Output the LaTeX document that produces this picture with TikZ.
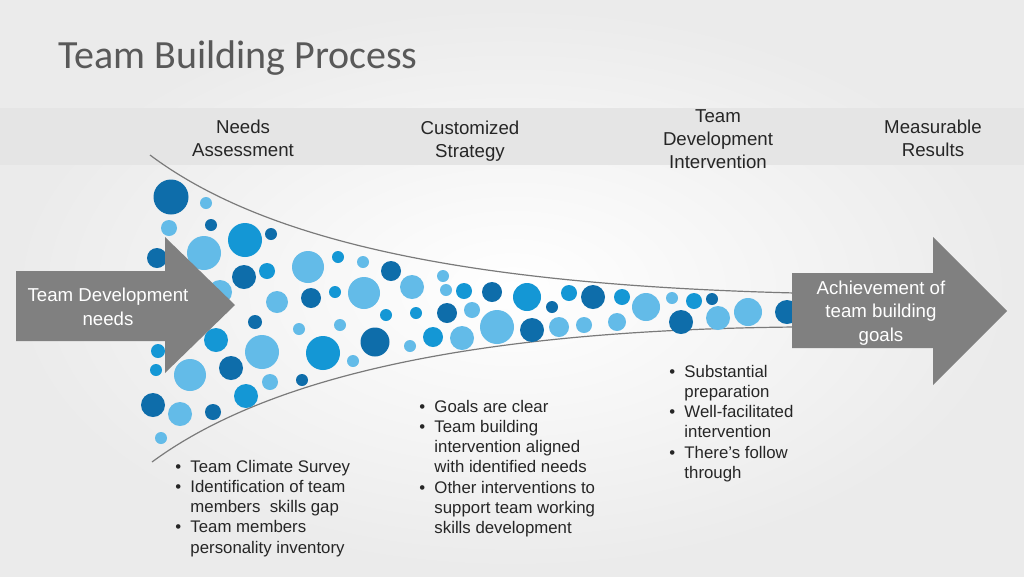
\documentclass[tikz,border=0pt]{standalone}
\usepackage{fontspec}
\setmainfont{Liberation Sans}
\newfontfamily\titlefont{Carlito}
\usepackage{xcolor}
\definecolor{bubdark}{HTML}{0E6DAA}
\definecolor{bubmid}{HTML}{1497D5}
\definecolor{bubpale}{HTML}{63BBE8}
\definecolor{arrowgray}{HTML}{808080}
\definecolor{titlegray}{HTML}{595959}
\definecolor{linegray}{HTML}{7A7A7A}
\definecolor{bandgray}{HTML}{E5E5E5}

\begin{document}
\begin{tikzpicture}[x=0.75pt,y=-0.75pt]
\tikzset{header/.style={align=center,inner sep=0pt,text=black!85,font=\fontsize{14}{17.3}\selectfont}}
\tikzset{bullets/.style={anchor=base west,inner sep=0pt,text=black!85,font=\fontsize{12.6}{15.2}\selectfont}}
\tikzset{arrowtext/.style={align=center,inner sep=0pt,text=white,font=\fontsize{14}{17.6}\selectfont}}
\tikzset{bigarrow/.style={fill=arrowgray}}
\tikzset{funnel/.style={draw=linegray,line width=0.9pt}}

\useasboundingbox (0,0) rectangle (1024,576);
\shade[inner color=white,outer color=gray!16] (0,0) rectangle (1024,576);
\fill[bandgray] (0,108) rectangle (1024,165);

\node[anchor=base west,inner sep=0pt,text=titlegray,font=\titlefont\fontsize{30}{36}\selectfont] (title) at (58,68) {Team Building Process};

\node[header] (needs) at (243,138) {Needs\\Assessment};
\node[header] (strategy) at (470,141) {Customized\\Strategy};
\node[header] (intervention) at (718,139) {Team\\Development\\Intervention};
\node[header] (results) at (933,138) {Measurable\\Results};

\draw[funnel] (150,155) .. controls (270,245) and (480,285) .. (795,293);
\draw[funnel] (152,462) .. controls (270,375) and (480,330) .. (795,327);

\foreach \cx/\cy/\r in {171/197/17.5, 211/225/6, 271/234/6, 157/258/10, 244/277/12,
  255/322/7, 231/368/12, 153/405/12, 213/412/8, 302/380/6, 391/271/10, 311/298/10,
  375/342/14.5, 447/313/10, 492/292/10, 552/307/6, 593/297/12, 532/330/12, 712/299/6,
  681/322/12, 787/312/12}
  \fill[bubdark] (\cx,\cy) circle[radius=\r];
\foreach \cx/\cy/\r in {245/240/17, 267/271/8, 216/340/12, 158/351/7, 156/370/6,
  246/396/12, 338/257/6, 335/292/6, 386/315/6, 416/313/6, 433/337/10, 323/353/17,
  464/291/8, 527/297/14, 569/293/8, 622/297/8, 694/301/8}
  \fill[bubmid] (\cx,\cy) circle[radius=\r];
\foreach \cx/\cy/\r in {206/203/6, 169/228/8, 204/253/17, 220/292/12, 277/302/11,
  262/352/17, 190/375/16, 270/382/8, 180/414/12, 161/438/6, 308/267/16, 363/262/6,
  364/293/16, 412/287/12, 443/276/6, 446/290/6, 299/329/6, 340/325/6, 353/361/6,
  410/346/6, 462/338/12, 472/310/8, 497/327/17, 559/327/10, 584/325/8, 617/322/9,
  646/307/14, 672/298/6, 718/318/12, 748/312/14}
  \fill[bubpale] (\cx,\cy) circle[radius=\r];

\fill[bigarrow] (16,271) -- (165,271) -- (165,237) -- (235,305) -- (165,373) -- (165,341) -- (16,341) -- cycle;
\fill[bigarrow] (792,273) -- (933,273) -- (933,237) -- (1007,311) -- (933,385) -- (933,348) -- (792,348) -- cycle;

\node[arrowtext] (devneeds) at (108,307) {Team Development\\needs};
\node[arrowtext] (goals) at (881,313) {Achievement of\\team building\\goals};

\node[bullets] (needslist) at (175,472) {\begin{tabular}[t]{@{}l@{\hspace{7pt}}l@{}}
  • & Team Climate Survey\\
  • & Identification of team\\
    & members\ \ skills gap\\
  • & Team members\\
    & personality inventory
\end{tabular}};
\node[bullets] (strategylist) at (419,412) {\begin{tabular}[t]{@{}l@{\hspace{7pt}}l@{}}
  • & Goals are clear\\
  • & Team building\\
    & intervention aligned\\
    & with identified needs\\
  • & Other interventions to\\
    & support team working\\
    & skills development
\end{tabular}};
\node[bullets] (interventionlist) at (669,377) {\begin{tabular}[t]{@{}l@{\hspace{7pt}}l@{}}
  • & Substantial\\
    & preparation\\
  • & Well-facilitated\\
    & intervention\\
  • & There’s follow\\
    & through
\end{tabular}};

\end{tikzpicture}
\end{document}
